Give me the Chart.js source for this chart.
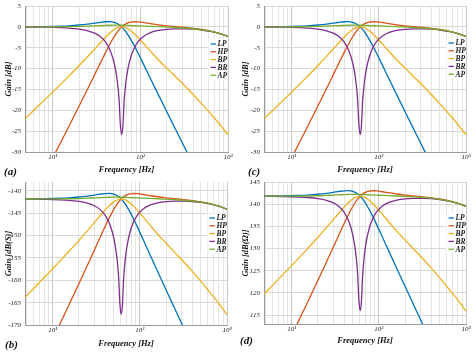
<!DOCTYPE html>
<html><head><meta charset="utf-8">
<script src="https://cdn.jsdelivr.net/npm/chart.js@4.4.1/dist/chart.umd.min.js"></script>
<style>
html,body{margin:0;padding:0;background:#fff;width:474px;height:353px;overflow:hidden;}
.p{position:absolute;}
.lab{position:absolute;font:italic bold 11px "Liberation Serif",serif;color:#111;line-height:12px;}
</style></head><body>
<div class="p" style="left:0;top:0;width:237px;height:176px"><canvas id="ca"></canvas></div>
<div class="p" style="left:237px;top:0;width:237px;height:176px"><canvas id="cc"></canvas></div>
<div class="p" style="left:0;top:176px;width:237px;height:177px"><canvas id="cb"></canvas></div>
<div class="p" style="left:237px;top:176px;width:237px;height:177px"><canvas id="cd"></canvas></div>
<div class="lab" style="left:4px;top:165px">(a)</div>
<div class="lab" style="left:5px;top:338px">(b)</div>
<div class="lab" style="left:248px;top:165px">(c)</div>
<div class="lab" style="left:240px;top:334px">(d)</div>
<script>
// Frequency samples [Hz]
const FREQ = [4.8, 6, 8, 10, 12, 15, 20, 25, 30, 35, 40, 45, 50, 54, 57, 59, 61, 63, 65, 68, 72, 78, 85, 95, 110, 130, 160, 200, 250, 320, 400, 500, 630, 800, 1000];

// Panel (a) / (c): Gain [dB]
const LP_A = [0.03, 0.04, 0.07, 0.12, 0.17, 0.25, 0.44, 0.65, 0.88, 1.08, 1.22, 1.24, 1.08, 0.81, 0.51, 0.27, 0.0, -0.30, -0.62, -1.15, -1.92, -3.11, -4.54, -6.52, -9.24, -12.38, -16.25, -20.36, -24.44, -28.94, -33.03, -37.18, -41.6, -46.3, -50.9];
const HP_A = [-44.1, -40.25, -35.22, -31.29, -28.08, -24.11, -18.93, -14.84, -11.45, -8.57, -6.11, -4.05, -2.37, -1.31, -0.67, -0.31, 0.0, 0.26, 0.48, 0.74, 0.97, 1.16, 1.23, 1.18, 1.00, 0.77, 0.50, 0.26, 0.07, -0.14, -0.36, -0.63, -1.02, -1.57, -2.27];
const BP_A = [-22.05, -20.10, -17.57, -15.59, -13.96, -11.93, -9.25, -7.09, -5.28, -3.74, -2.44, -1.40, -0.65, -0.25, -0.08, -0.02, 0.0, -0.02, -0.07, -0.20, -0.47, -0.98, -1.66, -2.67, -4.12, -5.81, -7.88, -9.9, -11.9, -14.1, -16.2, -18.4, -20.8, -23.3, -25.9];
const BR_A = [-0.03, -0.04, -0.08, -0.12, -0.18, -0.29, -0.55, -0.94, -1.52, -2.38, -3.66, -5.59, -8.60, -12.49, -17.42, -23.54, -25.8, -23.82, -17.99, -13.45, -10.02, -7.05, -5.06, -3.44, -2.19, -1.39, -0.86, -0.58, -0.47, -0.47, -0.56, -0.76, -1.10, -1.62, -2.31];
const AP_A = [0, 0, 0.01, 0.02, 0.03, 0.05, 0.1, 0.17, 0.25, 0.31, 0.36, 0.39, 0.4, 0.41, 0.41, 0.4, 0.4, 0.39, 0.38, 0.36, 0.34, 0.31, 0.28, 0.24, 0.19, 0.13, 0.05, -0.05, -0.15, -0.3, -0.45, -0.7, -1.05, -1.6, -2.25];

// Panel (b): Gain [dB(S)]
const LP_B = [-141.77, -141.76, -141.73, -141.68, -141.63, -141.55, -141.36, -141.15, -140.92, -140.72, -140.58, -140.56, -140.72, -140.99, -141.29, -141.53, -141.8, -142.1, -142.42, -142.95, -143.72, -144.91, -146.34, -148.32, -151.04, -154.18, -158.05, -162.16, -166.24, -170.74, -174.83, -178.98, -183.4, -188.1, -192.7];
const HP_B = [-185.9, -182.05, -177.02, -173.09, -169.88, -165.91, -160.73, -156.64, -153.25, -150.37, -147.91, -145.85, -144.17, -143.11, -142.47, -142.11, -141.8, -141.54, -141.32, -141.06, -140.83, -140.64, -140.57, -140.62, -140.8, -141.03, -141.3, -141.54, -141.73, -141.94, -142.16, -142.43, -142.82, -143.37, -144.07];
const BP_B = [-163.85, -161.9, -159.37, -157.39, -155.76, -153.73, -151.05, -148.89, -147.08, -145.54, -144.24, -143.2, -142.45, -142.05, -141.88, -141.82, -141.8, -141.82, -141.87, -142.0, -142.27, -142.78, -143.46, -144.47, -145.92, -147.61, -149.68, -151.7, -153.7, -155.9, -158.0, -160.2, -162.6, -165.1, -167.7];
const BR_B = [-141.83, -141.84, -141.88, -141.92, -141.98, -142.09, -142.35, -142.74, -143.32, -144.18, -145.46, -147.39, -150.4, -154.29, -159.22, -165.34, -167.6, -165.62, -159.79, -155.25, -151.82, -148.85, -146.86, -145.24, -143.99, -143.19, -142.66, -142.38, -142.27, -142.27, -142.36, -142.56, -142.9, -143.42, -144.11];
const AP_B = [-141.8, -141.8, -141.79, -141.78, -141.77, -141.75, -141.7, -141.63, -141.55, -141.49, -141.44, -141.41, -141.4, -141.39, -141.39, -141.4, -141.4, -141.41, -141.42, -141.44, -141.46, -141.49, -141.52, -141.56, -141.61, -141.67, -141.75, -141.85, -141.95, -142.1, -142.25, -142.5, -142.85, -143.4, -144.05];

// Panel (d): Gain [dB(Ω)]
const LP_D = [141.83, 141.84, 141.87, 141.92, 141.97, 142.05, 142.24, 142.45, 142.68, 142.88, 143.02, 143.04, 142.88, 142.61, 142.31, 142.07, 141.8, 141.5, 141.18, 140.65, 139.88, 138.69, 137.26, 135.28, 132.56, 129.42, 125.55, 121.44, 117.36, 112.86, 108.77, 104.62, 100.2, 95.5, 90.9];
const HP_D = [97.7, 101.55, 106.58, 110.51, 113.72, 117.69, 122.87, 126.96, 130.35, 133.23, 135.69, 137.75, 139.43, 140.49, 141.13, 141.49, 141.8, 142.06, 142.28, 142.54, 142.77, 142.96, 143.03, 142.98, 142.8, 142.57, 142.3, 142.06, 141.87, 141.66, 141.44, 141.17, 140.78, 140.23, 139.53];
const BP_D = [119.75, 121.7, 124.23, 126.21, 127.84, 129.87, 132.55, 134.71, 136.52, 138.06, 139.36, 140.4, 141.15, 141.55, 141.72, 141.78, 141.8, 141.78, 141.73, 141.6, 141.33, 140.82, 140.14, 139.13, 137.68, 135.99, 133.92, 131.9, 129.9, 127.7, 125.6, 123.4, 121.0, 118.5, 115.9];
const BR_D = [141.77, 141.76, 141.72, 141.68, 141.62, 141.51, 141.25, 140.86, 140.28, 139.42, 138.14, 136.21, 133.2, 129.31, 124.38, 118.26, 116.0, 117.98, 123.81, 128.35, 131.78, 134.75, 136.74, 138.36, 139.61, 140.41, 140.94, 141.22, 141.33, 141.33, 141.24, 141.04, 140.7, 140.18, 139.49];
const AP_D = [141.8, 141.8, 141.81, 141.82, 141.83, 141.85, 141.9, 141.97, 142.05, 142.11, 142.16, 142.19, 142.2, 142.21, 142.21, 142.2, 142.2, 142.19, 142.18, 142.16, 142.14, 142.11, 142.08, 142.04, 141.99, 141.93, 141.85, 141.75, 141.65, 141.5, 141.35, 141.1, 140.75, 140.2, 139.55];

const SERIES_NAMES = ['LP', 'HP', 'BP', 'BR', 'AP'];
const COLORS = ['#0072BD', '#D95319', '#EDB120', '#7E2F8E', '#77AC30'];
const X_TICKS = [5, 6, 7, 8, 9, 10, 20, 30, 40, 50, 60, 70, 80, 90, 100, 200, 300, 400, 500, 600, 700, 800, 900, 1000];
const X_LABELS = {10: '10\u00B9', 100: '10\u00B2', 1000: '10\u00B3'};
const Y_TICKS_DB = [-30, -25, -20, -15, -10, -5, 0, 5];
const Y_TICKS_S = [-170, -165, -160, -155, -150, -145, -140];
const Y_TICKS_OHM = [115, 120, 125, 130, 135, 140, 145];

const SERIF = '"Liberation Serif", "Times New Roman", serif';

const insideLegend = {
  id: 'insideLegend',
  afterDatasetsDraw(chart, args, opts) {
    const {ctx, chartArea} = chart;
    const x0 = chartArea.right - 17.5;
    const y0 = chartArea.top + opts.dy;
    const step = 7.8;
    const n = chart.data.datasets.length;
    ctx.save();
    ctx.fillStyle = '#fff';
    ctx.fillRect(x0 - 2, y0 - 4.5, chartArea.right - x0 + 1.5, (n - 1) * step + 9);
    ctx.font = 'italic bold 7.5px ' + SERIF;
    ctx.textBaseline = 'middle';
    ctx.textAlign = 'left';
    chart.data.datasets.forEach((ds, i) => {
      const y = y0 + i * step;
      ctx.strokeStyle = ds.borderColor;
      ctx.lineWidth = 1.3;
      ctx.beginPath(); ctx.moveTo(x0, y); ctx.lineTo(x0 + 5.5, y); ctx.stroke();
      ctx.fillStyle = '#1a1a1a';
      ctx.fillText(ds.label, x0 + 7, y + 0.5);
    });
    ctx.restore();
  }
};

function makeChart(p) {
  const datasets = p.series.map((vals, i) => ({
    label: SERIES_NAMES[i],
    data: FREQ.map((f, k) => ({x: f, y: vals[k]})),
    borderColor: COLORS[i],
    borderWidth: 1.3,
    pointRadius: 0,
    fill: false,
    cubicInterpolationMode: 'monotone',
    order: 5 - i
  }));
  new Chart(document.getElementById(p.id), {
    type: 'line',
    data: {datasets},
    plugins: [insideLegend],
    options: {
      responsive: true,
      maintainAspectRatio: false,
      animation: false,
      events: [],
      layout: {padding: {top: p.area.top, right: p.W - p.area.right, left: 0, bottom: 0}},
      plugins: {legend: {display: false}, tooltip: {enabled: false}, insideLegend: {dy: p.legendDy}},
      scales: {
        x: {
          type: 'logarithmic',
          min: 4.8, max: 1000,
          afterBuildTicks: s => { s.ticks = X_TICKS.map(v => ({value: v, major: !!X_LABELS[v]})); },
          afterFit: s => { s.height = p.H - p.area.bottom; s.paddingLeft = 0; s.paddingRight = 0; },
          ticks: {
            autoSkip: false, maxRotation: 0, minRotation: 0, padding: 1,
            color: '#222',
            font: {family: SERIF, style: 'italic', size: 7},
            callback: v => X_LABELS[v] || ''
          },
          grid: {
            drawTicks: false,
            color: c => (c.tick && X_LABELS[c.tick.value]) ? '#c8c8c8' : '#e4e4e4',
            lineWidth: 1
          },
          border: {display: true, color: '#9a9a9a', width: 1},
          title: {
            display: true, text: 'Frequency [Hz]', color: '#111',
            font: {family: SERIF, style: 'italic', weight: 'bold', size: 8.5},
            padding: {top: 0, bottom: p.xTitlePad}
          }
        },
        y: {
          type: 'linear',
          min: p.yMin, max: p.yMax,
          afterBuildTicks: s => { s.ticks = p.yTicks.map(v => ({value: v})); },
          afterFit: s => { s.width = p.area.left; s.paddingTop = 0; s.paddingBottom = 0; },
          ticks: {
            padding: 4, color: '#222',
            font: {family: SERIF, style: 'italic', size: 7}
          },
          grid: {drawTicks: false, color: '#d9d9d9', lineWidth: 1},
          border: {display: true, color: '#9a9a9a', width: 1},
          title: {
            display: true, text: p.yTitle, color: '#111',
            font: {family: SERIF, style: 'italic', weight: 'bold', size: 8.5},
            padding: {top: 4, bottom: 0}
          }
        }
      }
    }
  });
}

const PANELS = [
  {id: 'ca', W: 237, H: 176, area: {left: 25, right: 228, top: 6, bottom: 152}, yMin: -30, yMax: 5, yTicks: Y_TICKS_DB, yTitle: 'Gain [dB]', series: [LP_A, HP_A, BP_A, BR_A, AP_A], xTitlePad: 1, legendDy: 38},
  {id: 'cc', W: 237, H: 176, area: {left: 27, right: 229, top: 6, bottom: 152}, yMin: -30, yMax: 5, yTicks: Y_TICKS_DB, yTitle: 'Gain [dB]', series: [LP_A, HP_A, BP_A, BR_A, AP_A], xTitlePad: 1, legendDy: 37},
  {id: 'cb', W: 237, H: 177, area: {left: 25, right: 227, top: 6, bottom: 149}, yMin: -170, yMax: -138, yTicks: Y_TICKS_S, yTitle: 'Gain [dB(S)]', series: [LP_B, HP_B, BP_B, BR_B, AP_B], xTitlePad: 4, legendDy: 36},
  {id: 'cd', W: 237, H: 177, area: {left: 27, right: 229, top: 6, bottom: 148}, yMin: 113, yMax: 145, yTicks: Y_TICKS_OHM, yTitle: 'Gain [dB(\u03A9)]', series: [LP_D, HP_D, BP_D, BR_D, AP_D], xTitlePad: 7, legendDy: 36}
];
PANELS.forEach(makeChart);
</script>
</body></html>
